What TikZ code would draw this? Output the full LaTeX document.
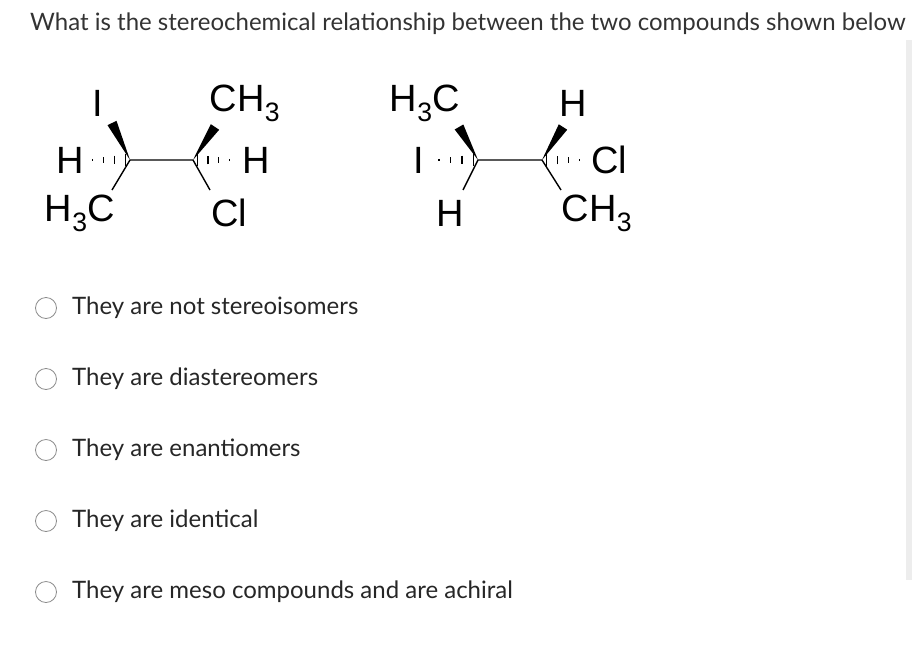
\documentclass[tikz,border=0pt]{standalone}
\usepackage{fontspec}
\usetikzlibrary{calc}
\setmainfont{Lato}
\newfontfamily\arial{Liberation Sans}
\newcommand{\hashw}[2]{\foreach \f/\w in {0.15/1.2,0.4/2.8,0.65/4.4,0.9/6}{\draw[line width=1.3pt] ($(#2)!\f!(#1)!\w pt!90:(#1)$) -- ($(#2)!\f!(#1)!\w pt!-90:(#1)$);}}
\begin{document}
\begin{tikzpicture}[x=1pt,y=-1pt,
  lab/.style={font=\arial\fontsize{38}{38}\selectfont,inner sep=0pt,text=black},
  opt/.style={font=\fontsize{24}{28}\selectfont,anchor=west,inner sep=0pt,text=black!85},
  radio/.style={circle,draw=black!45,line width=0.8pt,minimum size=21pt,inner sep=0pt},
  bond/.style={line width=1.4pt}]
\useasboundingbox (0,0) rectangle (912,653);
\fill[black!7] (906,40) rectangle (912,580);
\node[font=\fontsize{24}{28}\selectfont,anchor=west,inner sep=0pt,text=black!80] (q) at (30,24) {What is the stereochemical relationship between the two compounds shown below};
\fill[white] (912,0) rectangle (1100,60);
% left molecule
\coordinate (c1) at (130,160); \coordinate (c2) at (193,160);
\coordinate (w1) at (112,123); \coordinate (h1) at (86,160); \coordinate (d1) at (112,190);
\coordinate (w2) at (215,127); \coordinate (h2) at (236,160); \coordinate (d2) at (210,190);
\node[lab] (I1) at (98,103) {I};
\node[lab] (Ha) at (70,160) {H};
\node[lab] (Me1) at (80,213) {H\textsubscript{3}C};
\node[lab] (Me2) at (245,103) {CH\textsubscript{3}};
\node[lab] (Hb) at (256,160) {H};
\node[lab] (Cl1) at (229,213) {Cl};
\draw[bond] (c1) -- (c2) (c1) -- (d1) (c2) -- (d2);
\fill ($(w1)!5pt!90:(c1)$) -- ($(w1)!5pt!-90:(c1)$) -- (c1) -- cycle;
\fill ($(w2)!5pt!90:(c2)$) -- ($(w2)!5pt!-90:(c2)$) -- (c2) -- cycle;
\hashw{c1}{h1} \hashw{c2}{h2}
% right molecule
\coordinate (c3) at (478,160); \coordinate (c4) at (542,160);
\coordinate (w3) at (459,127); \coordinate (h3) at (432,160); \coordinate (d3) at (463,190);
\coordinate (w4) at (563,127); \coordinate (h4) at (586,160); \coordinate (d4) at (561,190);
\node[lab] (Me3) at (425,103) {H\textsubscript{3}C};
\node[lab] (H3) at (573,103) {H};
\node[lab] (I2) at (419,160) {I};
\node[lab] (Cl2) at (609,160) {Cl};
\node[lab] (H4) at (450,213) {H};
\node[lab] (Me4) at (597,213) {CH\textsubscript{3}};
\draw[bond] (c3) -- (c4) (c3) -- (d3) (c4) -- (d4);
\fill ($(w3)!5pt!90:(c3)$) -- ($(w3)!5pt!-90:(c3)$) -- (c3) -- cycle;
\fill ($(w4)!5pt!90:(c4)$) -- ($(w4)!5pt!-90:(c4)$) -- (c4) -- cycle;
\hashw{c3}{h3} \hashw{c4}{h4}
% options
\foreach \y/\t/\n in {308/They are not stereoisomers/a,379/They are diastereomers/b,450/They are enantiomers/c,521/They are identical/d,592/They are meso compounds and are achiral/e}{
  \node[radio] (r\n) at (46,\y) {};
  \node[opt] (t\n) at (72,\y) {\t};
}
\end{tikzpicture}
\end{document}
